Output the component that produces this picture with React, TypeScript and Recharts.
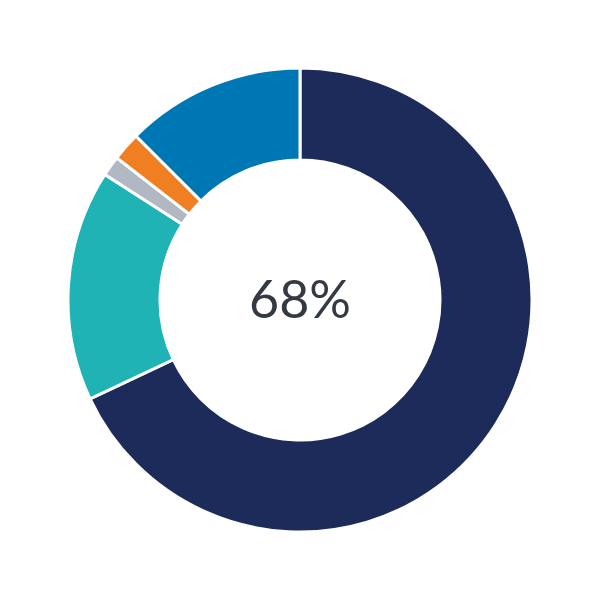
import React from 'react';
import { PieChart, Pie, Cell, Label } from 'recharts';

const categories = ['Navy', 'Teal', 'Gray', 'Orange', 'Blue'];
const values = [68, 16.1, 1.4, 2, 12.5];
const colors = ['#1c2b5a', '#1fb3b5', '#b1b8c4', '#f07f22', '#0077b5'];
const centerLabel = '68%';

const data = categories.map((name, i) => ({ name, value: values[i] }));

const App: React.FC = () => {
    return (
        <div style={{ position: 'absolute', left: 0, top: 0, width: 600, height: 600, background: '#fff' }}>
            <PieChart width={600} height={600} margin={{ top: 0, right: 0, bottom: 0, left: 0 }}>
                <Pie
                    data={data}
                    dataKey="value"
                    cx={300}
                    cy={300}
                    innerRadius={140}
                    outerRadius={232}
                    startAngle={90}
                    endAngle={-270}
                    stroke="#ffffff"
                    strokeWidth={3}
                    isAnimationActive={false}
                >
                    {data.map((d, i) => (
                        <Cell key={d.name} fill={colors[i]} />
                    ))}
                    <Label
                        value={centerLabel}
                        position="center"
                        fill="#343a44"
                        style={{ fontFamily: 'Lato, sans-serif', fontSize: 52, fontWeight: 400 }}
                    />
                </Pie>
            </PieChart>
        </div>
    );
};

export default App;
